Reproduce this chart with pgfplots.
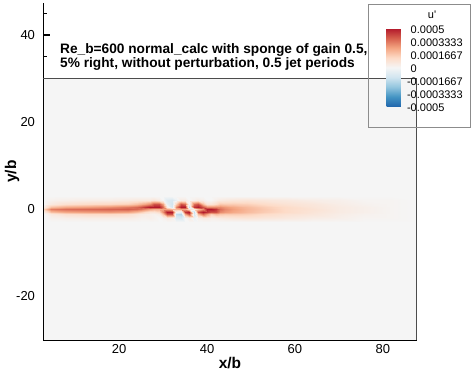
\documentclass[border=0pt]{standalone}
\usepackage{pgfplots}
\pgfplotsset{compat=1.18}
\usepackage{fontspec}
\setmainfont{Liberation Sans}
\pgfplotsset{colormap={rdbu}{rgb255=(33,102,172) rgb255=(67,147,195) rgb255=(146,197,222) rgb255=(209,229,240) rgb255=(245,245,245) rgb255=(253,219,199) rgb255=(244,165,130) rgb255=(214,96,77) rgb255=(178,24,43)}}
\begin{document}
\begin{tikzpicture}
\path[use as bounding box] (-43.5pt,-34pt) rectangle (430.5pt,340pt);
\begin{axis}[
  at={(0pt,0pt)}, anchor=south west,
  scale only axis, width=373.2pt, height=337pt,
  xmin=2.8, xmax=87.7, ymin=-30, ymax=47.3,
  axis x line*=bottom, axis y line*=left,
  axis line style={line width=1.6pt, black, -},
  clip=false,
  tick align=inside,
  xtick={20,40,60,80}, xticklabels={20,40,60,80},
  minor xtick={5,10,15,25,30,35,45,50,55,65,70,75,85},
  ytick={-20,0,20,40}, yticklabels={-20,0,20,40},
  minor ytick={-25,-15,-10,-5,5,10,15,25,30,35,45},
  major tick length=7pt, minor tick length=4pt,
  every major tick/.append style={line width=1.6pt, black},
  every minor tick/.append style={line width=0.8pt, black},
  ticklabel style={font=\fontsize{13}{13}\selectfont},
  xticklabel style={yshift=-1pt},
  yticklabel style={xshift=-5pt},
  xlabel={x/b}, ylabel={y/b},
  every axis x label/.style={at={(axis description cs:0.4997,-0.0682)}, anchor=center, font=\fontsize{15.5}{15.5}\selectfont\bfseries},
  every axis y label/.style={at={(axis description cs:-0.0844,0.5)}, rotate=90, anchor=center, font=\fontsize{15.5}{15.5}\selectfont\bfseries},
  colormap name=rdbu,
  point meta min=-5, point meta max=5,
  colorbar,
  colorbar style={
    at={(parent axis.north east)}, anchor=north west,
    xshift=-38.7pt, yshift=-25.3pt,
    scale only axis, width=17pt, height=78.4pt,
    axis line style={draw=none},
    ytick={-5,-3.3333,-1.6667,0,1.6667,3.3333,5},
    yticklabels={-0.0005,-0.0003333,-0.0001667,\phantom{-}0,\phantom{-}0.0001667,\phantom{-}0.0003333,\phantom{-}0.0005},
    yticklabel style={font=\fontsize{11}{11}\selectfont, anchor=west, yshift=-1.5pt},
    major tick length=0pt,
    every major tick/.append style={draw=none},
  },
]
\addplot[surf, shader=interp, empty line=scanline, mesh/ordering=y varies, point meta=explicit] table[x=x, y=y, meta=z] {
x y z
2.8 -30 0
2.8 -3 0
2.8 -2 0
2.8 -1.2 0
2.8 -0.6 0.5
2.8 0 1.5
2.8 0.6 0.5
2.8 1.2 0
2.8 2 0
2.8 3 0
2.8 30 0

4.5 -30 0
4.5 -3 0
4.5 -2 0.2
4.5 -1.2 0.6
4.5 -0.6 1.9
4.5 0 3.2
4.5 0.6 1.9
4.5 1.2 0.6
4.5 2 0.2
4.5 3 0
4.5 30 0

8 -30 0
8 -3 0
8 -2 0.3
8 -1.2 1.0
8 -0.6 2.4
8 0 3.5
8 0.6 2.4
8 1.2 1.0
8 2 0.3
8 3 0
8 30 0

13 -30 0
13 -3 0
13 -2 0.4
13 -1.2 1.2
13 -0.6 2.6
13 0 3.6
13 0.6 2.6
13 1.2 1.2
13 2 0.4
13 3 0
13 30 0

18 -30 0
18 -3 0
18 -2 0.4
18 -1.2 1.2
18 -0.6 2.7
18 0 3.7
18 0.6 2.9
18 1.2 1.3
18 2 0.4
18 3 0
18 30 0

22 -30 0
22 -3 0
22 -2 0.4
22 -1.2 1.0
22 -0.6 2.5
22 0 3.8
22 0.6 3.3
22 1.2 1.5
22 2 0.5
22 3 0
22 30 0

24 -30 0
24 -3 0
24 -2 0.3
24 -1.2 0.7
24 -0.6 2.0
24 0 3.6
24 0.6 3.6
24 1.2 1.9
24 2 0.6
24 3 0
24 30 0

25 -30 0
25 -3 0
25 -2 0.2
25 -1.2 0.5
25 -0.6 1.6
25 0 3.4
25 0.6 4.0
25 1.2 2.2
25 2 0.6
25 3 0
25 30 0

26 -30 0
26 -3 0
26 -2 0.2
26 -1.2 0.4
26 -0.6 1.2
26 0 3.0
26 0.6 4.5
26 1.2 2.5
26 2 0.6
26 3 0
26 30 0

27 -30 0
27 -3 0
27 -2 0.3
27 -1.2 0.3
27 -0.6 0.8
27 0 2.5
27 0.6 5.0
27 1.2 3.0
27 2 0.6
27 3 0
27 30 0

28 -30 0
28 -3 0
28 -2 0.2
28 -1.2 0.2
28 -0.6 0.8
28 0 2.2
28 0.6 5.5
28 1.2 4.0
28 2 0.8
28 3 0
28 30 0

29 -30 0
29 -3 0
29 -2 0
29 -1.2 0.4
29 -0.6 1.2
29 0 2.2
29 0.6 5.5
29 1.2 4.0
29 2 0.5
29 3 0
29 30 0

30 -30 0
30 -3 0
30 -2 0.2
30 -1.2 1.8
30 -0.6 3.0
30 0 2.5
30 0.6 3.5
30 1.2 2.5
30 2 0
30 3 0
30 30 0

31 -30 0
31 -3 0
31 -2 0.5
31 -1.2 4.0
31 -0.6 5.5
31 0 2.5
31 0.6 0.5
31 1.2 -0.5
31 2 -0.8
31 3 0
31 30 0

32 -30 0
32 -3 0
32 -2 0.3
32 -1.2 4.0
32 -0.6 5.5
32 0 2.0
32 0.6 -1.0
32 1.2 -1.2
32 2 -1.0
32 3 0
32 30 0

33 -30 0
33 -3 0
33 -2 -0.8
33 -1.2 -1.5
33 -0.6 0
33 0 2.0
33 0.6 3.0
33 1.2 1.5
33 2 -0.3
33 3 0
33 30 0

34 -30 0
34 -3 0
34 -2 -1.0
34 -1.2 -1.8
34 -0.6 -0.5
34 0 2.5
34 0.6 5.5
34 1.2 4.0
34 2 0.5
34 3 0
34 30 0

35 -30 0
35 -3 0
35 -2 0
35 -1.2 2.5
35 -0.6 4.5
35 0 2.5
35 0.6 5.5
35 1.2 3.5
35 2 0.5
35 3 0
35 30 0

36 -30 0
36 -3 0
36 -2 0.5
36 -1.2 4.0
36 -0.6 5.5
36 0 1.0
36 0.6 -1.5
36 1.2 0
36 2 0
36 3 0
36 30 0

37 -30 0
37 -3 0
37 -2 -0.3
37 -1.2 -1.0
37 -0.6 -1.5
37 0 0.5
37 0.6 4.5
37 1.2 3.5
37 2 0.3
37 3 0
37 30 0

38 -30 0
38 -3 0
38 -2 0.3
38 -1.2 2.0
38 -0.6 4.0
38 0 2.0
38 0.6 5.5
38 1.2 4.0
38 2 0.5
38 3 0
38 30 0

39 -30 0
39 -3 0
39 -2 0.5
39 -1.2 3.5
39 -0.6 5.5
39 0 3.0
39 0.6 4.0
39 1.2 2.0
39 2 0.3
39 3 0
39 30 0

40 -30 0
40 -3 0
40 -2 0.5
40 -1.2 2.5
40 -0.6 4.5
40 0 5.5
40 0.6 3.0
40 1.2 0.8
40 2 0
40 3 0
40 30 0

41 -30 0
41 -3 0
41 -2 0.3
41 -1.2 1.5
41 -0.6 4.0
41 0 5.5
41 0.6 3.0
41 1.2 0.8
41 2 0
41 3 0
41 30 0

42 -30 0
42 -3 0
42 -2 0.4
42 -1.2 2.0
42 -0.6 4.0
42 0 4.5
42 0.6 3.0
42 1.2 1.2
42 2 0.3
42 3 0
42 30 0

43 -30 0
43 -3 0
43 -2 0.5
43 -1.2 1.7
43 -0.6 3.0
43 0 3.5
43 0.6 3.0
43 1.2 1.7
43 2 0.5
43 3 0
43 30 0

44 -30 0
44 -3 0
44 -2 0.6
44 -1.2 1.6
44 -0.6 2.7
44 0 3.0
44 0.6 2.7
44 1.2 1.6
44 2 0.6
44 3 0
44 30 0

46 -30 0
46 -3 0
46 -2 0.7
46 -1.2 1.6
46 -0.6 2.4
46 0 2.6
46 0.6 2.4
46 1.2 1.6
46 2 0.7
46 3 0
46 30 0

49 -30 0
49 -3 0
49 -2 0.8
49 -1.2 1.5
49 -0.6 2.0
49 0 2.1
49 0.6 2.0
49 1.2 1.5
49 2 0.8
49 3 0
49 30 0

53 -30 0
53 -3 0
53 -2 0.7
53 -1.2 1.2
53 -0.6 1.6
53 0 1.7
53 0.6 1.6
53 1.2 1.2
53 2 0.7
53 3 0
53 30 0

58 -30 0
58 -3 0
58 -2 0.6
58 -1.2 0.9
58 -0.6 1.2
58 0 1.2
58 0.6 1.2
58 1.2 0.9
58 2 0.6
58 3 0
58 30 0

64 -30 0
64 -3 0
64 -2 0.4
64 -1.2 0.7
64 -0.6 0.8
64 0 0.9
64 0.6 0.8
64 1.2 0.7
64 2 0.4
64 3 0
64 30 0

70 -30 0
70 -3 0
70 -2 0.3
70 -1.2 0.4
70 -0.6 0.5
70 0 0.5
70 0.6 0.5
70 1.2 0.4
70 2 0.3
70 3 0
70 30 0

76 -30 0
76 -3 0
76 -2 0.1
76 -1.2 0.2
76 -0.6 0.3
76 0 0.3
76 0.6 0.3
76 1.2 0.2
76 2 0.1
76 3 0
76 30 0

82 -30 0
82 -3 0
82 -2 0.1
82 -1.2 0.1
82 -0.6 0.1
82 0 0.1
82 0.6 0.1
82 1.2 0.1
82 2 0.1
82 3 0
82 30 0

87.7 -30 0
87.7 -3 0
87.7 -2 0
87.7 -1.2 0
87.7 -0.6 0
87.7 0 0
87.7 0.6 0
87.7 1.2 0
87.7 2 0
87.7 3 0
87.7 30 0
};
\addplot[draw=black!70, line width=0.7pt, mark=none] coordinates {(2.8,30) (87.7,30) (87.7,-30)};
\end{axis}
\node[anchor=base west, font=\fontsize{13.7}{13.7}\selectfont\bfseries] at (13.2pt,286pt) {Re\_b=600 normal\_calc with sponge of gain 0.5,};
\node[anchor=base west, font=\fontsize{13.7}{13.7}\selectfont\bfseries] at (13.2pt,272pt) {5\% right, without perturbation, 0.5 jet periods};
\draw[black!45, line width=0.8pt] (324.5pt,213pt) rectangle (426.5pt,336pt);
\node[font=\fontsize{11}{11}\selectfont] at (388.5pt,325pt) {u\textquotesingle};
\end{tikzpicture}
\end{document}
